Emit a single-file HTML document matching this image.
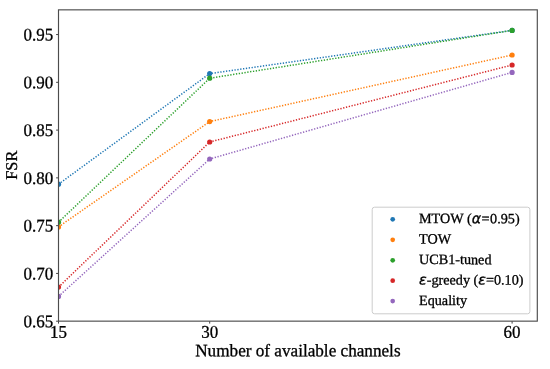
<!DOCTYPE html>
<html><head><meta charset="utf-8"><title>FSR</title>
<style>
html,body{margin:0;padding:0;background:#fff;}
svg{display:block;}
text{font-family:"Liberation Serif","Times New Roman",serif;fill:#000;stroke:#000;stroke-width:0.3px;}
.t{font-size:17.0px;}
.l{font-size:14.2px;}
.m{font-family:"DejaVu Sans",sans-serif;font-style:italic;}
</style></head><body>
<svg width="550" height="369" viewBox="0 0 550 369">
<rect x="0" y="0" width="550" height="369" fill="#fff"/>
<defs><clipPath id="c"><rect x="58.5" y="9.85" width="478.75" height="311.34999999999997"/></clipPath></defs>
<g clip-path="url(#c)">
<polyline points="58.5,184.2 209.7,73.6 512.1,30.4" fill="none" stroke="#1f77b4" stroke-width="1.5" stroke-dasharray="1.3 1.57"/>
<polyline points="58.5,226.9 209.7,121.6 512.1,55.0" fill="none" stroke="#ff7f0e" stroke-width="1.5" stroke-dasharray="1.3 1.57"/>
<polyline points="58.5,222.2 209.7,78.2 512.1,30.4" fill="none" stroke="#2ca02c" stroke-width="1.5" stroke-dasharray="1.3 1.57"/>
<polyline points="58.5,287.1 209.7,142.0 512.1,65.0" fill="none" stroke="#d62728" stroke-width="1.5" stroke-dasharray="1.3 1.57"/>
<polyline points="58.5,296.4 209.7,159.0 512.1,72.4" fill="none" stroke="#9467bd" stroke-width="1.5" stroke-dasharray="1.3 1.57"/>
<circle cx="58.5" cy="184.2" r="2.6" fill="#1f77b4"/>
<circle cx="209.7" cy="73.6" r="2.6" fill="#1f77b4"/>
<circle cx="512.1" cy="30.4" r="2.6" fill="#1f77b4"/>
<circle cx="58.5" cy="226.9" r="2.6" fill="#ff7f0e"/>
<circle cx="209.7" cy="121.6" r="2.6" fill="#ff7f0e"/>
<circle cx="512.1" cy="55.0" r="2.6" fill="#ff7f0e"/>
<circle cx="58.5" cy="222.2" r="2.6" fill="#2ca02c"/>
<circle cx="209.7" cy="78.2" r="2.6" fill="#2ca02c"/>
<circle cx="512.1" cy="30.4" r="2.6" fill="#2ca02c"/>
<circle cx="58.5" cy="287.1" r="2.6" fill="#d62728"/>
<circle cx="209.7" cy="142.0" r="2.6" fill="#d62728"/>
<circle cx="512.1" cy="65.0" r="2.6" fill="#d62728"/>
<circle cx="58.5" cy="296.4" r="2.6" fill="#9467bd"/>
<circle cx="209.7" cy="159.0" r="2.6" fill="#9467bd"/>
<circle cx="512.1" cy="72.4" r="2.6" fill="#9467bd"/>
</g>
<path d="M56.1 321.20H58.5M56.1 273.43H58.5M56.1 225.65H58.5M56.1 177.87H58.5M56.1 130.10H58.5M56.1 82.32H58.5M56.1 34.55H58.5M58.5 321.2V323.6M209.7 321.2V323.6M512.1 321.2V323.6" stroke="#3a3a3a" stroke-width="0.95" fill="none"/>
<rect x="58.5" y="9.85" width="478.8" height="311.3" fill="none" stroke="#4c4c4c" stroke-width="1.15"/>
<text class="t" transform="translate(53.3 327.2) rotate(0.03) scale(1 1.05)" text-anchor="end">0.65</text>
<text class="t" transform="translate(53.3 279.4) rotate(0.03) scale(1 1.05)" text-anchor="end">0.70</text>
<text class="t" transform="translate(53.3 231.6) rotate(0.03) scale(1 1.05)" text-anchor="end">0.75</text>
<text class="t" transform="translate(53.3 183.9) rotate(0.03) scale(1 1.05)" text-anchor="end">0.80</text>
<text class="t" transform="translate(53.3 136.1) rotate(0.03) scale(1 1.05)" text-anchor="end">0.85</text>
<text class="t" transform="translate(53.3 88.3) rotate(0.03) scale(1 1.05)" text-anchor="end">0.90</text>
<text class="t" transform="translate(53.3 40.5) rotate(0.03) scale(1 1.05)" text-anchor="end">0.95</text>
<text class="t" transform="translate(58.5 337.7) rotate(0.03) scale(1 1.05)" text-anchor="middle">15</text>
<text class="t" transform="translate(209.7 337.7) rotate(0.03) scale(1 1.05)" text-anchor="middle">30</text>
<text class="t" transform="translate(512.1 337.7) rotate(0.03) scale(1 1.05)" text-anchor="middle">60</text>
<text class="t" transform="translate(297.9 356.3) rotate(0.03) scale(1.01 1.03)" text-anchor="middle">Number of available channels</text>
<text class="t" transform="translate(17.1 165.2) rotate(-90.03) scale(0.965 0.97)" text-anchor="middle">FSR</text>
<rect x="372.2" y="207.2" width="157.7" height="106.6" rx="2.4" ry="2.4" fill="#fff" fill-opacity="0.8" stroke="#ccc" stroke-width="1"/>
<circle cx="392.7" cy="219.3" r="2.35" fill="#1f77b4"/>
<text class="l" transform="translate(419 223.1) rotate(0.03)">MTOW (<tspan class='m'>α</tspan><tspan dx='0.4'>=</tspan><tspan dx='0.6'>0.95)</tspan></text>
<circle cx="392.7" cy="239.8" r="2.35" fill="#ff7f0e"/>
<text class="l" transform="translate(419 243.6) rotate(0.03)">TOW</text>
<circle cx="392.7" cy="260.3" r="2.35" fill="#2ca02c"/>
<text class="l" transform="translate(419 264.1) rotate(0.03)">UCB1-tuned</text>
<circle cx="392.7" cy="280.7" r="2.35" fill="#d62728"/>
<text class="l" transform="translate(419 284.5) rotate(0.03)"><tspan class='m'>ε</tspan>-greedy (<tspan class='m'>ε</tspan>=0.10)</text>
<circle cx="392.7" cy="301.1" r="2.35" fill="#9467bd"/>
<text class="l" transform="translate(419 304.9) rotate(0.03)">Equality</text>
</svg></body></html>
